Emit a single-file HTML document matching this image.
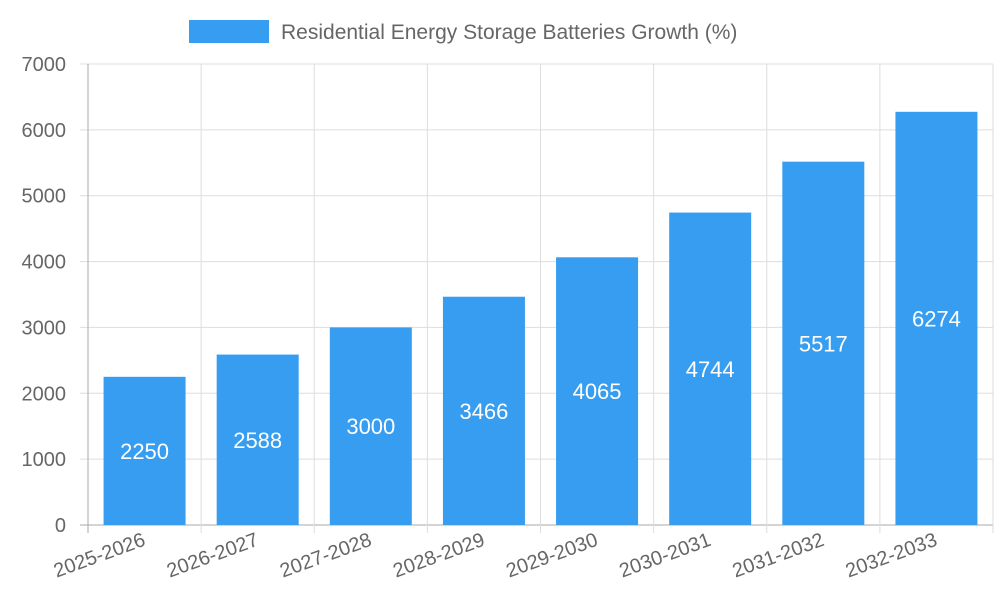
<!DOCTYPE html>
<html><head><meta charset="utf-8"><style>body{margin:0;background:#fff}svg{display:block;font-family:"Liberation Sans",sans-serif}</style></head>
<body>
<svg id="c" width="1000" height="600">
<g>
<rect x="189" y="20" width="80" height="23" fill="#379df0"></rect>
<text x="281" y="39" font-size="21" fill="#666">Residential Energy Storage Batteries Growth (%)</text>
</g>
</svg>
<script>
const categories=["2025-2026","2026-2027","2027-2028","2028-2029","2029-2030","2030-2031","2031-2032","2032-2033"];
const values=[2250,2588,3000,3466,4065,4744,5517,6274];
const yTicks=[0,1000,2000,3000,4000,5000,6000,7000];
const svg=document.getElementById('c');const NS='http://www.w3.org/2000/svg';
const L=88,R=993,T=64,B=525,yMax=7000;
const band=(R-L)/categories.length;
const y=v=>B-(v/yMax)*(B-T);
const x=i=>L+band*i;
function mk(t,a,p){const e=document.createElementNS(NS,t);for(const k in a)e.setAttribute(k,a[k]);(p||svg).appendChild(e);return e;}
yTicks.forEach(v=>{
 const l=mk('line',{x1:L-8,x2:R,y1:y(v),y2:y(v),stroke:v===0?'#aaa':'#ddd','stroke-width':1});
 
 
 const t=mk('text',{x:66,y:y(v)+7,'text-anchor':'end','font-size':20,fill:'#666'});t.textContent=v;
 
 
});
for(let i=0;i<=categories.length;i++){
 const l=mk('line',{x1:x(i),x2:x(i),y1:T,y2:B+8,stroke:i===0?'#aaa':'#ddd','stroke-width':1});
 
 
}
const bw=82;
categories.forEach((c,i)=>{
 const cx=x(i)+band/2;
 const r=mk('rect',{x:cx-bw/2,y:y(values[i]),width:bw,height:B-y(values[i]),fill:'#379df0'});
 
 
 const t=mk('text',{x:cx,y:(y(values[i])+B)/2+8,'text-anchor':'middle','font-size':22,fill:'#fff'});t.textContent=values[i];
 
 
 const xl=mk('text',{x:cx+2,y:545,'text-anchor':'end','font-size':20,fill:'#666',transform:`rotate(-20 ${cx+2} 545)`});xl.textContent=c;
 
 
});
</script>
</body></html>
